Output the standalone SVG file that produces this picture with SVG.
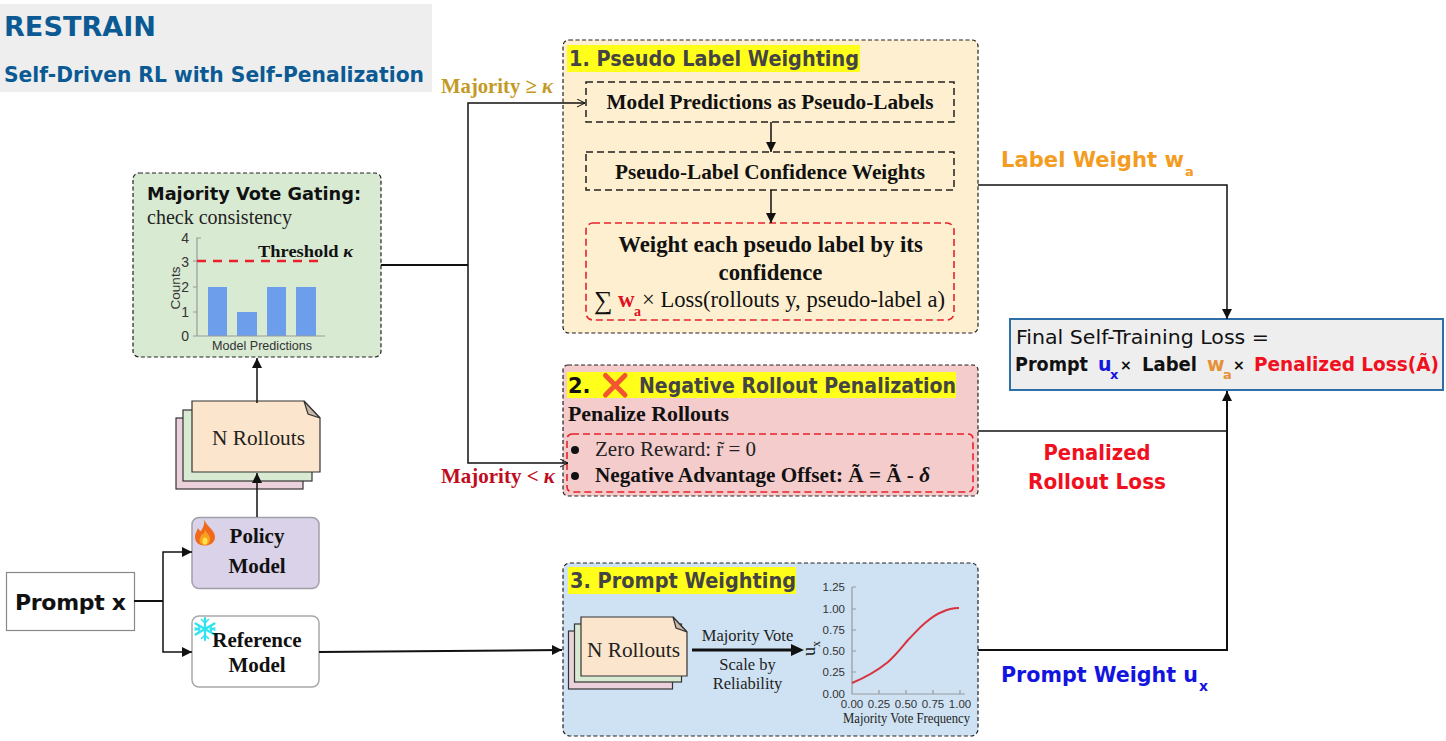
<svg xmlns="http://www.w3.org/2000/svg" width="1446" height="741" viewBox="0 0 1446 741">
<style>
text{white-space:pre}
.c{font-family:"DejaVu Sans","Noto Sans",sans-serif}
.cb{font-family:"DejaVu Sans","Noto Sans",sans-serif;font-weight:700}
.s{font-family:"Liberation Serif",serif}
.sb{font-family:"Liberation Serif",serif;font-weight:700}
.a{font-family:"Liberation Sans",sans-serif;fill:#333}
.m{text-anchor:middle}
.e{text-anchor:end}
.box{stroke:#222;stroke-width:1.2;stroke-dasharray:4 2.5}
.in{fill:none;stroke:#222;stroke-width:1.5;stroke-dasharray:7 4}
.red{fill:none;stroke:#e8222c;stroke-width:1.6;stroke-dasharray:7 4}
.ln{fill:none;stroke:#111;stroke-width:1.5}
.lt{fill:none;stroke:#111;stroke-width:2}
.sheet{stroke:#333;stroke-width:1.2}
.ax{fill:none;stroke:#999;stroke-width:1.2}
</style>
<defs>
<marker id="ah" markerUnits="userSpaceOnUse" markerWidth="11" markerHeight="12" refX="10" refY="5" orient="auto"><path d="M0 0L10 5L0 10Z" fill="#111"/></marker>
<marker id="oh" markerUnits="userSpaceOnUse" markerWidth="9" markerHeight="9" refX="8" refY="4" orient="auto"><path d="M0 0L8 4L0 8" fill="none" stroke="#111" stroke-width="1"/></marker>
</defs>

<g id="title">
<rect x="0" y="4" width="432" height="88" fill="#eeeeee"/>
<text class="cb" x="4" y="36" font-size="26" fill="#0b5a94" textLength="152" lengthAdjust="spacingAndGlyphs">RESTRAIN</text>
<text class="cb" x="4" y="82" font-size="21" fill="#0b5a94" textLength="420" lengthAdjust="spacingAndGlyphs">Self-Driven RL with Self-Penalization</text>
</g>

<text id="label-majority-ge" class="sb" x="441" y="93" font-size="21" fill="#c49a26" textLength="112" lengthAdjust="spacingAndGlyphs">Majority ≥ <tspan font-style="italic">κ</tspan></text>
<text id="label-majority-lt" class="sb" x="441" y="483" font-size="21" fill="#c00d1e" textLength="114" lengthAdjust="spacingAndGlyphs">Majority &lt; <tspan font-style="italic">κ</tspan></text>

<g id="majority-vote-gating">
<rect class="box" x="133" y="173" width="248" height="184" rx="6" fill="#d9ead3"/>
<text class="cb" x="147" y="200" font-size="18" fill="#111" textLength="214" lengthAdjust="spacingAndGlyphs">Majority Vote Gating:</text>
<text class="s" x="147" y="224" font-size="20" fill="#222">check consistency</text>
<g fill="#6d9eeb">
<rect x="208" y="287" width="19" height="49"/><rect x="237" y="312" width="20" height="24"/><rect x="267" y="287" width="19" height="49"/><rect x="296" y="287" width="20" height="49"/>
</g>
<path class="ax" d="M201 238H197V336M193 336H325M193 312H197M193 287H197M193 261H197"/>
<path d="M197 261H318" fill="none" stroke="#e8222c" stroke-width="2.5" stroke-dasharray="9 7"/>
<g class="a" font-size="14">
<text class="e" x="189" y="243">4</text><text class="e" x="189" y="267">3</text><text class="e" x="189" y="292">2</text><text class="e" x="189" y="317">1</text><text class="e" x="189" y="341">0</text>
<text x="212" y="350" font-size="13" textLength="100" lengthAdjust="spacingAndGlyphs">Model Predictions</text>
<text class="m" transform="translate(180 288) rotate(-90)" font-size="13.500">Counts</text>
</g>
<text class="sb" x="258" y="257" font-size="17.500" fill="#111" textLength="95" lengthAdjust="spacingAndGlyphs">Threshold <tspan font-style="italic">κ</tspan></text>
</g>

<g id="n-rollouts-policy">
<rect class="sheet" x="176" y="418" width="127" height="71" fill="#ead1dc"/>
<rect class="sheet" x="183" y="410" width="129" height="71" fill="#d9ead3"/>
<path class="sheet" d="M192 401H304L320 418V472H192Z" fill="#fce5cd"/>
<path class="sheet" d="M304 401L320 418L308 414Z" fill="#c9b8a8"/>
<text class="s" x="212" y="445" font-size="22" fill="#222" textLength="93" lengthAdjust="spacingAndGlyphs">N Rollouts</text>
</g>

<g id="policy-model">
<rect x="192" y="517.500" width="127" height="71" rx="7" fill="#d9d2e9" stroke="#a0a0a8" stroke-width="1.500"/>
<text class="sb m" x="257" y="543" font-size="21" fill="#111">Policy</text>
<text class="sb m" x="257" y="573" font-size="21" fill="#111">Model</text>
<path d="M204 519C206 526 215 530 215 537C215 543 210 545.500 204.500 545.500C199 545.500 195 542 195 537C195 533 197 531 198 528C199 530 200 531 201 531C203 528 205 524 204 519Z" fill="#f06a1c"/>
<path d="M205 530C207 534 211 536 210 540C209.500 544 207 545 204.500 545C201.500 545 199.500 543 199.500 540C199.500 537 201.500 536 202 534C203 535 204.500 533 205 530Z" fill="#f9a01e"/>
<ellipse cx="205" cy="541" rx="2.500" ry="3.500" fill="#ffe14d"/>
</g>

<g id="prompt-x">
<rect x="6.500" y="572.500" width="128" height="58" fill="#fff" stroke="#888" stroke-width="1.200"/>
<text class="cb" x="15" y="610" font-size="22" fill="#111" textLength="111" lengthAdjust="spacing">Prompt x</text>
</g>

<g id="reference-model">
<rect x="192" y="616" width="127" height="71" rx="7" fill="#fff" stroke="#a8a8a8" stroke-width="1.500"/>
<g stroke="#2fe3ee" stroke-width="2.200" fill="none" stroke-linecap="round">
<path d="M205 618V640M195.500 623.500L214.500 634.500M214.500 623.500L195.500 634.500"/>
<path d="M201.500 619.500L205 623L208.500 619.500M201.500 638.500L205 635L208.500 638.500M195 628L199.500 629L198 624.500M215 630L210.500 629L212 633.500M215 628L210.500 629L212 624.500M195 630L199.500 629L198 633.500" stroke-width="1.500"/>
</g>
<text class="sb m" x="257" y="647" font-size="21" fill="#111">Reference</text>
<text class="sb m" x="257" y="672" font-size="21" fill="#111">Model</text>
</g>

<g id="pseudo-label-weighting">
<rect class="box" x="563" y="40" width="415" height="293" rx="6" fill="#fdefcf"/>
<rect x="567" y="45" width="293" height="27" fill="#ffff1a"/>
<text class="cb" x="569" y="66" font-size="21" fill="#444" textLength="290" lengthAdjust="spacingAndGlyphs">1. Pseudo Label Weighting</text>
<rect class="in" x="586" y="82" width="368" height="40"/>
<text class="sb m" x="770" y="109" font-size="20.500" fill="#111" textLength="327" lengthAdjust="spacingAndGlyphs">Model Predictions as Pseudo-Labels</text>
<rect class="in" x="586" y="152" width="368" height="38"/>
<text class="sb m" x="770" y="179" font-size="20.500" fill="#111" textLength="310" lengthAdjust="spacingAndGlyphs">Pseudo-Label Confidence Weights</text>
<rect class="red" x="586" y="223" width="368" height="97" rx="7"/>
<text class="sb m" x="770.500" y="252" font-size="22.800" fill="#111">Weight each pseudo label by its</text>
<text class="sb m" x="770.500" y="280" font-size="22.800" fill="#111">confidence</text>
<text class="s" x="594" y="309" font-size="26" fill="#111">∑</text>
<text class="sb" x="618" y="307" font-size="23" fill="#e01020">w</text>
<text class="sb" x="634" y="316" font-size="14" fill="#e01020">a</text>
<text class="s" x="642" y="307" font-size="23" fill="#111" textLength="303" lengthAdjust="spacingAndGlyphs">× Loss(rollouts y, pseudo-label a)</text>
</g>

<g id="negative-rollout-penalization">
<rect class="box" x="563" y="365" width="415" height="131" rx="5" fill="#f4cccc"/>
<rect x="567" y="372" width="389" height="26" fill="#ffff1a"/>
<text class="cb" x="568" y="393" font-size="21" fill="#111">2.</text>
<path d="M605.500 375.500L625 395M625 375.500L605.500 395" stroke="#f2552f" stroke-width="5" stroke-linecap="round" fill="none"/>
<text class="cb" x="639" y="393" font-size="21" fill="#444" textLength="317" lengthAdjust="spacingAndGlyphs">Negative Rollout Penalization</text>
<text class="sb" x="568" y="421" font-size="21" fill="#111" textLength="161" lengthAdjust="spacingAndGlyphs">Penalize Rollouts</text>
<rect class="red" x="567" y="434" width="406" height="58" rx="5"/>
<circle cx="575" cy="450" r="4" fill="#111"/>
<circle cx="575" cy="476" r="4" fill="#111"/>
<text class="s" x="595" y="456" font-size="21" fill="#222">Zero Reward: r̃ = 0</text>
<text class="sb" x="595" y="482" font-size="21" fill="#111" textLength="335" lengthAdjust="spacingAndGlyphs">Negative Advantage Offset: Ã = Ã - <tspan font-style="italic">δ</tspan></text>
</g>

<g id="prompt-weighting">
<rect class="box" x="563" y="563" width="415" height="173" rx="7" fill="#cfe2f3"/>
<rect x="568" y="567" width="228" height="27" fill="#ffff1a"/>
<text class="cb" x="570" y="588" font-size="21" fill="#444" textLength="226" lengthAdjust="spacingAndGlyphs">3. Prompt Weighting</text>
<rect class="sheet" x="568.500" y="631" width="104" height="58" fill="#ead1dc"/>
<rect class="sheet" x="574.500" y="624" width="107" height="58" fill="#d9ead3"/>
<path class="sheet" d="M581 617H673L687 632V676H581Z" fill="#fce5cd"/>
<path class="sheet" d="M673 617L687 632L676 628Z" fill="#c9b8a8"/>
<text class="s" x="587" y="657" font-size="22" fill="#222" textLength="93" lengthAdjust="spacingAndGlyphs">N Rollouts</text>
<path d="M692 650H795" stroke="#111" stroke-width="3" fill="none"/>
<path d="M791 644L804 650L791 656Z" fill="#111"/>
<text class="s m" x="747.500" y="641" font-size="16.500" fill="#222">Majority Vote</text>
<text class="s m" x="747.500" y="670" font-size="16.500" fill="#222">Scale by</text>
<text class="s m" x="747.500" y="689" font-size="16.500" fill="#222">Reliability</text>
<path class="ax" d="M852 587V694H965M852 587H856M852 609H856M852 630H856M852 651H856M852 672H856M879 694V690M906 694V690M933 694V690M960 694V690"/>
<path d="M852 683C864 678 877 671 888 662C896 655 902 647 908 640C914 634 919 628 925 623C931 618 936 614 942 612C948 609 953 608 959 608" fill="none" stroke="#d9333f" stroke-width="2"/>
<g class="a" font-size="11.500">
<text class="e" x="845" y="591">1.25</text><text class="e" x="845" y="613">1.00</text><text class="e" x="845" y="634">0.75</text><text class="e" x="845" y="655">0.50</text><text class="e" x="845" y="676">0.25</text><text class="e" x="845" y="698">0.00</text>
<text class="m" x="852" y="708">0.00</text><text class="m" x="879" y="708">0.25</text><text class="m" x="906" y="708">0.50</text><text class="m" x="933" y="708">0.75</text><text class="m" x="960" y="708">1.00</text>
</g>
<text class="s" x="843" y="723" font-size="14" fill="#222" textLength="127" lengthAdjust="spacingAndGlyphs">Majority Vote Frequency</text>
<g transform="translate(815 650) rotate(-90)"><text class="s" x="-6" y="0" font-size="18" fill="#222">u</text><text class="s" x="3" y="5" font-size="12" fill="#222">x</text></g>
</g>

<g id="final-self-training-loss">
<rect x="1010" y="319" width="433" height="71" fill="#eeeeee" stroke="#2f6fa7" stroke-width="2"/>
<text class="c" x="1016" y="344" font-size="19" fill="#111" textLength="253" lengthAdjust="spacingAndGlyphs">Final Self-Training Loss =</text>
<text class="cb" x="1015" y="371" font-size="19" fill="#111" textLength="73" lengthAdjust="spacingAndGlyphs">Prompt</text>
<text class="cb" x="1098" y="371" font-size="19" fill="#1414e0">u</text>
<text class="cb" x="1110" y="379" font-size="13" fill="#1414e0">x</text>
<text class="cb" x="1120" y="370" font-size="14" fill="#111">×</text>
<text class="cb" x="1142" y="371" font-size="19" fill="#111" textLength="55" lengthAdjust="spacingAndGlyphs">Label</text>
<text class="cb" x="1207" y="371" font-size="19" fill="#e69138">w</text>
<text class="cb" x="1223" y="379" font-size="13" fill="#e69138">a</text>
<text class="cb" x="1233" y="370" font-size="14" fill="#111">×</text>
<text class="cb" x="1254" y="371" font-size="19" fill="#f01020" textLength="185" lengthAdjust="spacingAndGlyphs">Penalized Loss(Ã)</text>
</g>

<g id="edge-labels">
<text class="cb" x="1001" y="167" font-size="21" fill="#f39c1f" textLength="183" lengthAdjust="spacingAndGlyphs">Label Weight w</text>
<text class="cb" x="1185" y="176" font-size="13" fill="#f39c1f">a</text>
<text class="cb m" x="1097" y="460" font-size="21" fill="#f01020" textLength="107" lengthAdjust="spacingAndGlyphs">Penalized</text>
<text class="cb m" x="1097" y="489" font-size="21" fill="#f01020" textLength="138" lengthAdjust="spacingAndGlyphs">Rollout Loss</text>
<text class="cb" x="1001" y="682" font-size="21" fill="#1414e0" textLength="197" lengthAdjust="spacingAndGlyphs">Prompt Weight u</text>
<text class="cb" x="1199" y="691" font-size="14" fill="#1414e0">x</text>
</g>

<g id="connectors">
<path class="lt" d="M381 265H468"/>
<path class="ln" d="M468 265V103H585" marker-end="url(#oh)"/>
<path class="ln" d="M468 265V463H568" marker-end="url(#oh)"/>
<path class="ln" d="M257 403V358" marker-end="url(#ah)"/>
<path class="ln" d="M257 517V473" marker-end="url(#ah)"/>
<path class="lt" d="M134 601H163"/>
<path class="ln" d="M163 601V552H192" marker-end="url(#ah)"/>
<path class="ln" d="M163 601V652H192" marker-end="url(#ah)"/>
<path class="lt" d="M319 652L562 650" marker-end="url(#ah)"/>
<path class="ln" d="M771 122V152" marker-end="url(#ah)"/>
<path class="ln" d="M771 190V223" marker-end="url(#ah)"/>
<path class="ln" d="M978 185H1227V319" marker-end="url(#ah)"/>
<path class="ln" d="M978 431H1227"/>
<path class="lt" d="M978 650H1227V391" marker-end="url(#ah)"/>
</g>
</svg>
